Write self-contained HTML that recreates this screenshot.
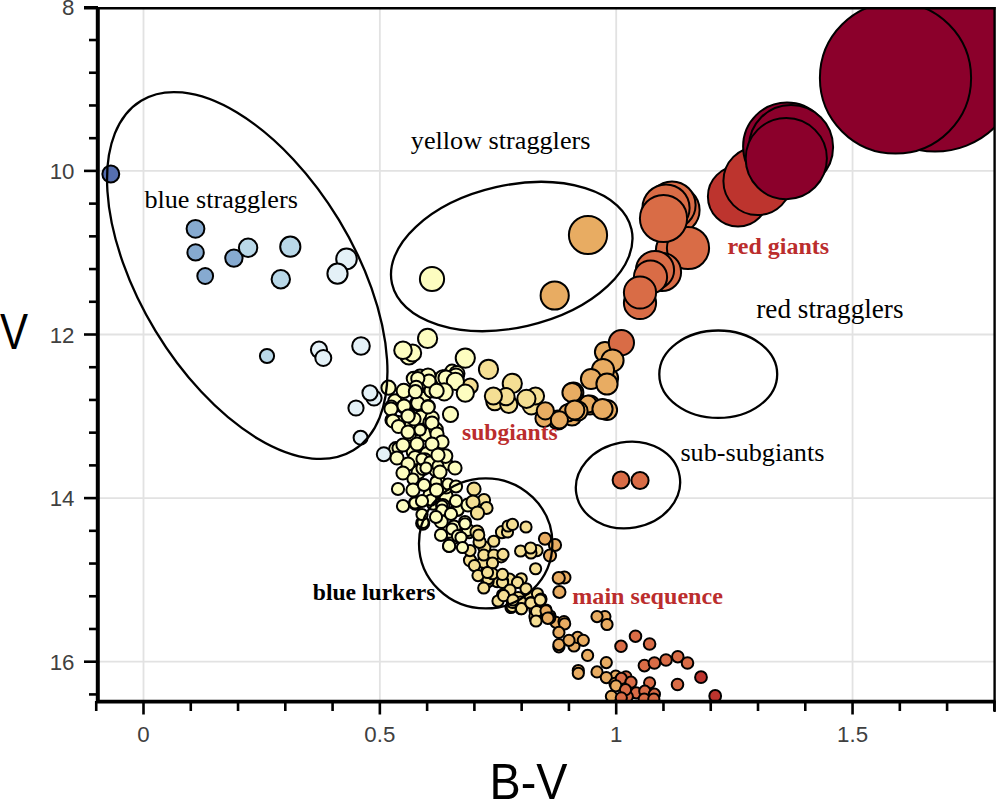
<!DOCTYPE html><html><head><meta charset="utf-8"><style>html,body{margin:0;padding:0;background:#fff;width:997px;height:800px;overflow:hidden}svg{display:block}</style></head><body>
<svg width="997" height="800" viewBox="0 0 997 800">
<defs><clipPath id="pc"><rect x="97" y="8" width="898" height="694"/></clipPath></defs>
<g stroke="#e2e2e2" stroke-width="1.8"><line x1="143.50" y1="8" x2="143.50" y2="701" /><line x1="379.85" y1="8" x2="379.85" y2="701" /><line x1="616.20" y1="8" x2="616.20" y2="701" /><line x1="852.55" y1="8" x2="852.55" y2="701" /><line x1="98" y1="170.90" x2="994" y2="170.90" /><line x1="98" y1="334.50" x2="994" y2="334.50" /><line x1="98" y1="498.10" x2="994" y2="498.10" /><line x1="98" y1="661.70" x2="994" y2="661.70" /></g>
<g clip-path="url(#pc)" stroke="#000" stroke-width="2.0"><circle cx="526.2" cy="595.7" r="6.10" fill="#f5df94"/><circle cx="535.8" cy="618.2" r="6.10" fill="#f5df94"/><circle cx="535.8" cy="602.9" r="6.10" fill="#f5df94"/><circle cx="518.2" cy="598.1" r="6.10" fill="#f5df94"/><circle cx="507.7" cy="589.3" r="6.10" fill="#f5df94"/><circle cx="509.3" cy="579.6" r="6.10" fill="#f5df94"/><circle cx="502.1" cy="581.2" r="6.10" fill="#f5df94"/><circle cx="487.7" cy="581.2" r="6.10" fill="#f5df94"/><circle cx="497.2" cy="581.2" r="6.10" fill="#f5df94"/><circle cx="487.6" cy="581.2" r="6.10" fill="#f5df94"/><circle cx="486" cy="574.8" r="6.10" fill="#f5df94"/><circle cx="487.6" cy="570" r="6.10" fill="#f5df94"/><circle cx="501.2" cy="556.3" r="6.10" fill="#f5df94"/><circle cx="483.6" cy="561.9" r="6.10" fill="#f5df94"/><circle cx="470" cy="560.3" r="6.10" fill="#f5df94"/><circle cx="502" cy="532.2" r="6.10" fill="#f5df94"/><circle cx="484.4" cy="547.5" r="6.10" fill="#f5df94"/><circle cx="479.6" cy="541.9" r="6.10" fill="#f5df94"/><circle cx="469.1" cy="532.2" r="6.10" fill="#fdfdc0"/><circle cx="449.1" cy="545.9" r="6.10" fill="#fdfdc0"/><circle cx="453.9" cy="537.8" r="6.10" fill="#fdfdc0"/><circle cx="455.5" cy="531.4" r="6.10" fill="#fdfdc0"/><circle cx="449.1" cy="531.4" r="6.10" fill="#fdfdc0"/><circle cx="430" cy="495.1" r="6.60" fill="#fdfdc0"/><circle cx="433.2" cy="503.1" r="6.60" fill="#fdfdc0"/><circle cx="449.2" cy="531.2" r="6.60" fill="#fdfdc0"/><circle cx="454" cy="527.2" r="6.60" fill="#fdfdc0"/><circle cx="441.2" cy="521.5" r="6.60" fill="#fdfdc0"/><circle cx="422.7" cy="523.2" r="6.60" fill="#fdfdc0"/><circle cx="457.2" cy="509.5" r="6.60" fill="#fdfdc0"/><circle cx="446" cy="495.9" r="6.60" fill="#fdfdc0"/><circle cx="442.8" cy="505.5" r="6.60" fill="#fdfdc0"/><circle cx="415.5" cy="503.1" r="6.60" fill="#fdfdc0"/><circle cx="446" cy="487" r="6.60" fill="#fdfdc0"/><circle cx="438" cy="480.6" r="6.60" fill="#fdfdc0"/><circle cx="445.6" cy="463.3" r="6.80" fill="#fdfdc0"/><circle cx="413.5" cy="452.1" r="6.80" fill="#fdfdc0"/><circle cx="430.4" cy="465" r="6.80" fill="#fdfdc0"/><circle cx="427.2" cy="453.7" r="6.80" fill="#fdfdc0"/><circle cx="418.3" cy="472.2" r="6.80" fill="#fdfdc0"/><circle cx="436" cy="469.8" r="6.80" fill="#fdfdc0"/><circle cx="423.2" cy="468.2" r="6.80" fill="#fdfdc0"/><circle cx="424.8" cy="460.1" r="6.80" fill="#fdfdc0"/><circle cx="415.1" cy="457.7" r="6.80" fill="#fdfdc0"/><circle cx="395.9" cy="448.9" r="6.80" fill="#fdfdc0"/><circle cx="445.6" cy="456.1" r="6.80" fill="#fdfdc0"/><circle cx="418.3" cy="434.4" r="6.80" fill="#fdfdc0"/><circle cx="426.4" cy="434.4" r="6.80" fill="#fdfdc0"/><circle cx="436" cy="429.6" r="6.80" fill="#fdfdc0"/><circle cx="409.5" cy="433.6" r="6.80" fill="#fdfdc0"/><circle cx="420" cy="426.4" r="6.80" fill="#fdfdc0"/><circle cx="409.5" cy="423.2" r="6.80" fill="#fdfdc0"/><circle cx="398.3" cy="422.8" r="6.80" fill="#fdfdc0"/><circle cx="431.2" cy="421.2" r="6.80" fill="#fdfdc0"/><circle cx="420.7" cy="417.2" r="6.80" fill="#fdfdc0"/><circle cx="395" cy="401.1" r="6.80" fill="#fdfdc0"/><circle cx="423.2" cy="398.7" r="6.80" fill="#fdfdc0"/><circle cx="416.7" cy="403.5" r="6.80" fill="#fdfdc0"/><circle cx="424.8" cy="385" r="6.80" fill="#fdfdc0"/><circle cx="413.5" cy="378.6" r="6.80" fill="#fdfdc0"/><circle cx="418.3" cy="385.9" r="6.80" fill="#fdfdc0"/><circle cx="432" cy="379.4" r="6.80" fill="#fdfdc0"/><circle cx="420" cy="376.2" r="6.80" fill="#fdfdc0"/><circle cx="452" cy="371.4" r="6.80" fill="#fdfdc0"/><circle cx="444.8" cy="377" r="6.80" fill="#fdfdc0"/><circle cx="431.2" cy="390.7" r="6.80" fill="#fdfdc0"/><circle cx="738" cy="196.4" r="30.10" fill="#bd342e"/><circle cx="757.5" cy="181" r="34.10" fill="#bd342e"/><circle cx="787" cy="146.4" r="43.90" fill="#8b002b"/><circle cx="791" cy="147" r="42.10" fill="#8b002b"/><circle cx="935" cy="66" r="85.60" fill="#8b002b"/><circle cx="676" cy="210" r="23.60" fill="#d96c46"/><circle cx="672" cy="205" r="23.60" fill="#d96c46"/><circle cx="666" cy="208" r="23.60" fill="#d96c46"/><circle cx="675" cy="250" r="19.10" fill="#d96c46"/><circle cx="688" cy="248" r="21.10" fill="#d96c46"/><circle cx="662" cy="272" r="19.10" fill="#d96c46"/><circle cx="655" cy="270" r="19.10" fill="#d96c46"/><circle cx="640" cy="303" r="16.10" fill="#d96c46"/><circle cx="605" cy="352" r="10.10" fill="#e8ac62"/><circle cx="608" cy="378" r="10.10" fill="#e8ac62"/><circle cx="590" cy="405" r="9.60" fill="#e8ac62"/><circle cx="572" cy="416" r="9.60" fill="#e8ac62"/><circle cx="607" cy="410" r="10.10" fill="#e8ac62"/><circle cx="558" cy="420" r="9.60" fill="#e8ac62"/><circle cx="588" cy="404" r="8.60" fill="#e8ac62"/><circle cx="570" cy="412" r="8.60" fill="#e8ac62"/><circle cx="494.8" cy="401.6" r="8.60" fill="#f5df94"/><circle cx="508.8" cy="404.4" r="8.60" fill="#f5df94"/><circle cx="531.3" cy="405.8" r="8.60" fill="#f5df94"/><circle cx="535.5" cy="396" r="8.60" fill="#f5df94"/><circle cx="544" cy="418.5" r="8.60" fill="#e8ac62"/><circle cx="567.8" cy="412.9" r="8.60" fill="#e8ac62"/><circle cx="456.9" cy="373.5" r="7.60" fill="#fdfdc0"/><circle cx="470.2" cy="386.2" r="7.60" fill="#f5df94"/><circle cx="442.8" cy="377.8" r="7.60" fill="#fdfdc0"/><circle cx="409" cy="356" r="8.60" fill="#fdfdc0"/><circle cx="412.6" cy="353" r="8.60" fill="#fdfdc0"/><circle cx="456" cy="376" r="7.60" fill="#fdfdc0"/><circle cx="446" cy="378" r="7.60" fill="#fdfdc0"/><circle cx="428" cy="376" r="7.60" fill="#fdfdc0"/><circle cx="420" cy="382" r="7.60" fill="#fdfdc0"/><circle cx="429" cy="381" r="6.60" fill="#fdfdc0"/><circle cx="417.8" cy="378.5" r="6.60" fill="#fdfdc0"/><circle cx="416.2" cy="387.3" r="6.60" fill="#fdfdc0"/><circle cx="417.8" cy="403.3" r="6.60" fill="#fdfdc0"/><circle cx="392" cy="420" r="6.60" fill="#fdfdc0"/><circle cx="414" cy="419" r="6.60" fill="#fdfdc0"/><circle cx="430" cy="422" r="6.60" fill="#fdfdc0"/><circle cx="420" cy="430" r="5.60" fill="#fdfdc0"/><circle cx="422" cy="459" r="5.60" fill="#fdfdc0"/><circle cx="398" cy="448" r="5.60" fill="#fdfdc0"/><circle cx="436" cy="482" r="5.60" fill="#fdfdc0"/><circle cx="415" cy="503" r="5.60" fill="#fdfdc0"/><circle cx="442" cy="506" r="5.60" fill="#fdfdc0"/><circle cx="423" cy="522.5" r="5.60" fill="#fdfdc0"/><circle cx="442" cy="510" r="5.60" fill="#fdfdc0"/><circle cx="448" cy="484" r="5.60" fill="#fdfdc0"/><circle cx="430" cy="462" r="5.60" fill="#fdfdc0"/><circle cx="438" cy="466" r="5.60" fill="#fdfdc0"/><circle cx="431" cy="500" r="5.60" fill="#fdfdc0"/><circle cx="458" cy="510" r="5.60" fill="#fdfdc0"/><circle cx="468" cy="505" r="6.60" fill="#fdfdc0"/><circle cx="468" cy="530" r="6.10" fill="#fdfdc0"/><circle cx="488" cy="578.75" r="5.60" fill="#f5df94"/><circle cx="502.5" cy="582.5" r="5.60" fill="#f5df94"/><circle cx="511" cy="607.5" r="5.60" fill="#f5df94"/><circle cx="530" cy="596" r="5.60" fill="#f5df94"/><circle cx="507.5" cy="532" r="5.60" fill="#f5df94"/><circle cx="537" cy="550.6" r="5.60" fill="#f5df94"/><circle cx="531" cy="553" r="5.60" fill="#f5df94"/><circle cx="564.4" cy="577.5" r="6.10" fill="#e8ac62"/><circle cx="512.2" cy="606.5" r="5.60" fill="#f5df94"/><circle cx="556" cy="622.3" r="5.60" fill="#e8ac62"/><circle cx="564" cy="621.6" r="5.60" fill="#e8ac62"/><circle cx="558.9" cy="646.8" r="5.60" fill="#e8ac62"/><circle cx="574" cy="646" r="5.60" fill="#e8ac62"/><circle cx="577.6" cy="637.4" r="5.60" fill="#e8ac62"/><circle cx="578.3" cy="670.5" r="5.60" fill="#e8ac62"/><circle cx="604.9" cy="616.6" r="5.60" fill="#e8ac62"/><circle cx="615.7" cy="676.2" r="5.60" fill="#e8ac62"/><circle cx="536" cy="618.7" r="5.60" fill="#f5df94"/><circle cx="520.8" cy="602" r="5.60" fill="#f5df94"/><circle cx="626" cy="676.8" r="5.60" fill="#d96c46"/><circle cx="632.7" cy="692.4" r="5.60" fill="#d96c46"/><circle cx="636.3" cy="692.8" r="5.60" fill="#d96c46"/><circle cx="627.3" cy="696.6" r="5.60" fill="#d96c46"/><circle cx="374" cy="398" r="7.60" fill="#e4f1f7"/><circle cx="484" cy="500" r="6.10" fill="#f5df94"/><circle cx="486.5" cy="508" r="6.10" fill="#f5df94"/><circle cx="786.3" cy="158.6" r="40.60" fill="#8b002b"/><circle cx="895.5" cy="78" r="75.60" fill="#8b002b"/><circle cx="663.5" cy="218.5" r="23.60" fill="#d96c46"/><circle cx="650.5" cy="277" r="16.60" fill="#d96c46"/><circle cx="640" cy="292.5" r="16.10" fill="#d96c46"/><circle cx="621.4" cy="342.7" r="12.60" fill="#d96c46"/><circle cx="612.5" cy="360.5" r="11.10" fill="#e8ac62"/><circle cx="603" cy="370" r="11.10" fill="#e8ac62"/><circle cx="591" cy="379" r="10.10" fill="#e8ac62"/><circle cx="607" cy="384" r="10.60" fill="#e8ac62"/><circle cx="573.5" cy="392.5" r="9.90" fill="#e8ac62"/><circle cx="578" cy="411" r="9.60" fill="#e8ac62"/><circle cx="602.5" cy="409" r="10.10" fill="#e8ac62"/><circle cx="465.3" cy="358.1" r="9.60" fill="#fdfdc0"/><circle cx="488.5" cy="369.3" r="9.60" fill="#f5df94"/><circle cx="512.3" cy="383.4" r="9.60" fill="#f5df94"/><circle cx="506" cy="396.7" r="8.60" fill="#f5df94"/><circle cx="493.4" cy="396" r="8.60" fill="#f5df94"/><circle cx="526.4" cy="398.8" r="9.10" fill="#f5df94"/><circle cx="545.3" cy="410.8" r="8.60" fill="#e8ac62"/><circle cx="559.4" cy="419.9" r="8.60" fill="#e8ac62"/><circle cx="572" cy="392.5" r="9.60" fill="#e8ac62"/><circle cx="574.8" cy="410" r="9.60" fill="#e8ac62"/><circle cx="455.4" cy="381.3" r="8.60" fill="#fdfdc0"/><circle cx="465.3" cy="393.2" r="8.60" fill="#fdfdc0"/><circle cx="444.2" cy="391.8" r="8.60" fill="#fdfdc0"/><circle cx="450.5" cy="414.3" r="7.60" fill="#fdfdc0"/><circle cx="403" cy="350.3" r="8.80" fill="#fdfdc0"/><circle cx="427.6" cy="338.4" r="9.60" fill="#fdfdc0"/><circle cx="388.5" cy="387.7" r="7.10" fill="#fdfdc0"/><circle cx="403.7" cy="390.9" r="7.10" fill="#fdfdc0"/><circle cx="415.4" cy="391.7" r="6.60" fill="#fdfdc0"/><circle cx="436.6" cy="390.9" r="7.10" fill="#fdfdc0"/><circle cx="403.3" cy="406.5" r="6.60" fill="#fdfdc0"/><circle cx="391.3" cy="406.5" r="6.10" fill="#fdfdc0"/><circle cx="408.2" cy="414.6" r="6.60" fill="#fdfdc0"/><circle cx="428.2" cy="406.5" r="6.60" fill="#fdfdc0"/><circle cx="432.2" cy="417.8" r="6.60" fill="#fdfdc0"/><circle cx="404" cy="406" r="6.60" fill="#fdfdc0"/><circle cx="391" cy="409" r="6.60" fill="#fdfdc0"/><circle cx="428" cy="407" r="6.60" fill="#fdfdc0"/><circle cx="393" cy="421" r="6.60" fill="#fdfdc0"/><circle cx="398.5" cy="426.5" r="6.60" fill="#fdfdc0"/><circle cx="408" cy="416" r="6.60" fill="#fdfdc0"/><circle cx="432" cy="423" r="6.60" fill="#fdfdc0"/><circle cx="437" cy="434" r="6.60" fill="#fdfdc0"/><circle cx="442" cy="442" r="6.60" fill="#fdfdc0"/><circle cx="432" cy="444" r="6.60" fill="#fdfdc0"/><circle cx="417" cy="444" r="6.60" fill="#fdfdc0"/><circle cx="403" cy="445" r="6.60" fill="#fdfdc0"/><circle cx="408" cy="432" r="6.60" fill="#fdfdc0"/><circle cx="438" cy="455" r="6.60" fill="#fdfdc0"/><circle cx="397" cy="458" r="6.60" fill="#fdfdc0"/><circle cx="408" cy="464" r="6.60" fill="#fdfdc0"/><circle cx="455" cy="468" r="6.60" fill="#fdfdc0"/><circle cx="440" cy="472" r="6.60" fill="#fdfdc0"/><circle cx="403" cy="473" r="6.60" fill="#fdfdc0"/><circle cx="426" cy="468" r="5.60" fill="#fdfdc0"/><circle cx="413" cy="479" r="5.60" fill="#fdfdc0"/><circle cx="398" cy="489" r="6.10" fill="#fdfdc0"/><circle cx="413" cy="490" r="6.60" fill="#fdfdc0"/><circle cx="424" cy="485" r="6.10" fill="#fdfdc0"/><circle cx="436.5" cy="490" r="6.60" fill="#fdfdc0"/><circle cx="456" cy="486.5" r="6.10" fill="#fdfdc0"/><circle cx="403" cy="506" r="6.10" fill="#fdfdc0"/><circle cx="422" cy="501" r="6.10" fill="#fdfdc0"/><circle cx="456" cy="501" r="6.10" fill="#fdfdc0"/><circle cx="422" cy="514.5" r="5.60" fill="#fdfdc0"/><circle cx="436" cy="517" r="6.10" fill="#fdfdc0"/><circle cx="451" cy="514" r="6.10" fill="#fdfdc0"/><circle cx="465" cy="522" r="6.10" fill="#fdfdc0"/><circle cx="441" cy="535" r="6.10" fill="#fdfdc0"/><circle cx="452" cy="529" r="5.60" fill="#fdfdc0"/><circle cx="458" cy="536" r="6.10" fill="#fdfdc0"/><circle cx="474" cy="489" r="6.60" fill="#f5df94"/><circle cx="473" cy="502" r="6.60" fill="#f5df94"/><circle cx="477.5" cy="513" r="6.60" fill="#f5df94"/><circle cx="477" cy="532" r="6.60" fill="#f5df94"/><circle cx="465" cy="523.75" r="5.60" fill="#fdfdc0"/><circle cx="478.75" cy="535" r="5.60" fill="#f5df94"/><circle cx="493.75" cy="541.25" r="5.60" fill="#f5df94"/><circle cx="470" cy="550.6" r="5.60" fill="#f5df94"/><circle cx="483.75" cy="555" r="5.60" fill="#f5df94"/><circle cx="493.75" cy="555" r="5.60" fill="#f5df94"/><circle cx="503" cy="554.4" r="5.60" fill="#f5df94"/><circle cx="474.4" cy="565.6" r="5.60" fill="#f5df94"/><circle cx="492.5" cy="563" r="5.60" fill="#f5df94"/><circle cx="478" cy="575.6" r="5.60" fill="#f5df94"/><circle cx="483.75" cy="588" r="5.60" fill="#f5df94"/><circle cx="492.5" cy="573.75" r="5.60" fill="#f5df94"/><circle cx="502.5" cy="574.4" r="5.60" fill="#f5df94"/><circle cx="521.25" cy="578.75" r="5.60" fill="#f5df94"/><circle cx="517.5" cy="582.5" r="5.60" fill="#f5df94"/><circle cx="526" cy="588.75" r="5.60" fill="#f5df94"/><circle cx="510" cy="590" r="5.60" fill="#f5df94"/><circle cx="502.5" cy="595" r="5.60" fill="#f5df94"/><circle cx="498" cy="601" r="5.60" fill="#f5df94"/><circle cx="512.5" cy="602.5" r="5.60" fill="#f5df94"/><circle cx="531" cy="602.5" r="5.60" fill="#f5df94"/><circle cx="521" cy="608.75" r="5.60" fill="#f5df94"/><circle cx="535" cy="610" r="5.60" fill="#f5df94"/><circle cx="537.5" cy="593.75" r="5.60" fill="#f5df94"/><circle cx="541" cy="599" r="5.60" fill="#f5df94"/><circle cx="508" cy="526" r="5.60" fill="#f5df94"/><circle cx="512.5" cy="524.4" r="5.60" fill="#f5df94"/><circle cx="526" cy="527" r="5.60" fill="#f5df94"/><circle cx="520.6" cy="551" r="5.60" fill="#f5df94"/><circle cx="530.6" cy="548" r="5.60" fill="#f5df94"/><circle cx="535.6" cy="568.75" r="5.60" fill="#f5df94"/><circle cx="545" cy="538.75" r="6.10" fill="#e8ac62"/><circle cx="555" cy="545" r="6.10" fill="#e8ac62"/><circle cx="550" cy="555.6" r="6.10" fill="#e8ac62"/><circle cx="558.75" cy="578" r="6.10" fill="#e8ac62"/><circle cx="559.4" cy="592" r="6.10" fill="#e8ac62"/><circle cx="461" cy="537.5" r="5.60" fill="#fdfdc0"/><circle cx="462.5" cy="547.5" r="5.60" fill="#fdfdc0"/><circle cx="546" cy="610" r="5.60" fill="#e8ac62"/><circle cx="550" cy="616" r="5.60" fill="#e8ac62"/><circle cx="535" cy="616" r="5.60" fill="#f5df94"/><circle cx="487.5" cy="572.5" r="5.60" fill="#f5df94"/><circle cx="503.6" cy="595.7" r="5.60" fill="#f5df94"/><circle cx="513" cy="600" r="5.60" fill="#f5df94"/><circle cx="521.5" cy="608.7" r="5.60" fill="#f5df94"/><circle cx="530.9" cy="603" r="5.60" fill="#f5df94"/><circle cx="540.2" cy="600" r="5.60" fill="#f5df94"/><circle cx="536.6" cy="611.6" r="5.60" fill="#f5df94"/><circle cx="536" cy="621" r="5.60" fill="#f5df94"/><circle cx="546" cy="610.8" r="5.60" fill="#e8ac62"/><circle cx="549.6" cy="618" r="5.60" fill="#e8ac62"/><circle cx="564.7" cy="623.8" r="5.60" fill="#e8ac62"/><circle cx="558.9" cy="632.4" r="5.60" fill="#e8ac62"/><circle cx="558.9" cy="644.6" r="5.60" fill="#e8ac62"/><circle cx="569" cy="640.3" r="5.60" fill="#e8ac62"/><circle cx="583.3" cy="640.3" r="5.60" fill="#e8ac62"/><circle cx="587.6" cy="655.4" r="5.60" fill="#e8ac62"/><circle cx="578.3" cy="673.3" r="5.60" fill="#e8ac62"/><circle cx="597" cy="616.6" r="5.60" fill="#e8ac62"/><circle cx="607" cy="624.5" r="5.60" fill="#e8ac62"/><circle cx="606.3" cy="662.6" r="5.60" fill="#e8ac62"/><circle cx="597" cy="671.9" r="5.60" fill="#e8ac62"/><circle cx="606.3" cy="677.6" r="5.60" fill="#e8ac62"/><circle cx="615" cy="683.4" r="5.60" fill="#e8ac62"/><circle cx="611.4" cy="696.3" r="5.60" fill="#e8ac62"/><circle cx="635.5" cy="636.2" r="5.80" fill="#d96c46"/><circle cx="621" cy="646.3" r="5.80" fill="#d96c46"/><circle cx="649.6" cy="644" r="5.80" fill="#d96c46"/><circle cx="644.4" cy="665.6" r="5.80" fill="#d96c46"/><circle cx="654.4" cy="663" r="5.80" fill="#d96c46"/><circle cx="666" cy="660" r="5.80" fill="#d96c46"/><circle cx="677.8" cy="656.7" r="5.80" fill="#d96c46"/><circle cx="687.5" cy="663" r="5.80" fill="#d96c46"/><circle cx="701" cy="677.2" r="5.90" fill="#bd342e"/><circle cx="621.3" cy="678.4" r="5.60" fill="#d96c46"/><circle cx="631" cy="682.2" r="5.60" fill="#d96c46"/><circle cx="615.9" cy="685.8" r="5.60" fill="#e8ac62"/><circle cx="625.5" cy="689.7" r="5.60" fill="#d96c46"/><circle cx="649.6" cy="682.8" r="5.60" fill="#d96c46"/><circle cx="644.8" cy="691.2" r="5.60" fill="#d96c46"/><circle cx="654.4" cy="694.2" r="5.60" fill="#d96c46"/><circle cx="677.5" cy="684.5" r="5.80" fill="#d96c46"/><circle cx="621.3" cy="697.8" r="5.60" fill="#d96c46"/><circle cx="644.2" cy="699" r="5.60" fill="#d96c46"/><circle cx="653.8" cy="699" r="5.60" fill="#d96c46"/><circle cx="715.2" cy="696" r="5.90" fill="#bd342e"/><circle cx="110.8" cy="174" r="8.45" fill="#556eaf"/><circle cx="195.5" cy="228.8" r="8.90" fill="#86aad0"/><circle cx="195.6" cy="252.4" r="8.20" fill="#86aad0"/><circle cx="205.2" cy="276" r="7.90" fill="#86aad0"/><circle cx="233.9" cy="258.1" r="8.70" fill="#86aad0"/><circle cx="248.1" cy="247.8" r="9.20" fill="#b9d8e8"/><circle cx="290.3" cy="246.7" r="10.10" fill="#b9d8e8"/><circle cx="280.8" cy="279.2" r="9.20" fill="#b9d8e8"/><circle cx="346.5" cy="258.9" r="10.30" fill="#e4f1f7"/><circle cx="337.5" cy="273.6" r="10.10" fill="#e4f1f7"/><circle cx="267" cy="356" r="7.10" fill="#b9d8e8"/><circle cx="319" cy="349.7" r="8.10" fill="#e4f1f7"/><circle cx="323.3" cy="358" r="8.00" fill="#e4f1f7"/><circle cx="361" cy="346" r="8.80" fill="#e4f1f7"/><circle cx="370" cy="392.8" r="7.60" fill="#e4f1f7"/><circle cx="356" cy="408" r="7.60" fill="#e4f1f7"/><circle cx="360.6" cy="437.7" r="7.00" fill="#e4f1f7"/><circle cx="383.8" cy="454.3" r="7.00" fill="#e4f1f7"/><circle cx="432" cy="279" r="12.10" fill="#fdfdc0"/><circle cx="588" cy="235" r="19.10" fill="#e8ac62"/><circle cx="554.7" cy="295.5" r="14.10" fill="#e8ac62"/><circle cx="621" cy="480" r="8.40" fill="#d96c46"/><circle cx="640" cy="480.5" r="8.60" fill="#d96c46"/><circle cx="449.1" cy="545.9" r="6.10" fill="#fdfdc0"/><circle cx="547.8" cy="618.2" r="5.80" fill="#e8ac62"/></g>
<g fill="none" stroke="#000" stroke-width="2.3">
<ellipse cx="247.25" cy="275.5" rx="204.5" ry="107.2" transform="rotate(58.75 247.25 275.5)"/>
<ellipse cx="511.75" cy="256.5" rx="122.8" ry="71.1" transform="rotate(-12.85 511.75 256.5)"/>
<ellipse cx="628" cy="485" rx="52.4" ry="43" transform="rotate(-10 628 485)"/>
<ellipse cx="718.25" cy="374.2" rx="58.95" ry="43.7"/>
<ellipse cx="485.7" cy="543.4" rx="66.7" ry="65"/>
</g>
<g stroke="#000"><line x1="84" y1="8.2" x2="995.5" y2="8.2" stroke-width="2.6"/><line x1="97.8" y1="6.9" x2="97.8" y2="703" stroke-width="4"/><line x1="96" y1="701.6" x2="995.5" y2="701.6" stroke-width="3.6"/><line x1="994.6" y1="6.9" x2="994.6" y2="712" stroke-width="2.4"/><line x1="84" y1="7.30" x2="98" y2="7.30" stroke-width="2.6"/><line x1="89" y1="40.02" x2="98" y2="40.02" stroke-width="2.6"/><line x1="89" y1="72.74" x2="98" y2="72.74" stroke-width="2.6"/><line x1="89" y1="105.46" x2="98" y2="105.46" stroke-width="2.6"/><line x1="89" y1="138.18" x2="98" y2="138.18" stroke-width="2.6"/><line x1="84" y1="170.90" x2="98" y2="170.90" stroke-width="2.6"/><line x1="89" y1="203.62" x2="98" y2="203.62" stroke-width="2.6"/><line x1="89" y1="236.34" x2="98" y2="236.34" stroke-width="2.6"/><line x1="89" y1="269.06" x2="98" y2="269.06" stroke-width="2.6"/><line x1="89" y1="301.78" x2="98" y2="301.78" stroke-width="2.6"/><line x1="84" y1="334.50" x2="98" y2="334.50" stroke-width="2.6"/><line x1="89" y1="367.22" x2="98" y2="367.22" stroke-width="2.6"/><line x1="89" y1="399.94" x2="98" y2="399.94" stroke-width="2.6"/><line x1="89" y1="432.66" x2="98" y2="432.66" stroke-width="2.6"/><line x1="89" y1="465.38" x2="98" y2="465.38" stroke-width="2.6"/><line x1="84" y1="498.10" x2="98" y2="498.10" stroke-width="2.6"/><line x1="89" y1="530.82" x2="98" y2="530.82" stroke-width="2.6"/><line x1="89" y1="563.54" x2="98" y2="563.54" stroke-width="2.6"/><line x1="89" y1="596.26" x2="98" y2="596.26" stroke-width="2.6"/><line x1="89" y1="628.98" x2="98" y2="628.98" stroke-width="2.6"/><line x1="84" y1="661.70" x2="98" y2="661.70" stroke-width="2.6"/><line x1="89" y1="694.42" x2="98" y2="694.42" stroke-width="2.6"/><line x1="96.23" y1="701" x2="96.23" y2="711" stroke-width="2.6"/><line x1="143.50" y1="701" x2="143.50" y2="714.5" stroke-width="2.6"/><line x1="190.77" y1="701" x2="190.77" y2="711" stroke-width="2.6"/><line x1="238.04" y1="701" x2="238.04" y2="711" stroke-width="2.6"/><line x1="285.31" y1="701" x2="285.31" y2="711" stroke-width="2.6"/><line x1="332.58" y1="701" x2="332.58" y2="711" stroke-width="2.6"/><line x1="379.85" y1="701" x2="379.85" y2="714.5" stroke-width="2.6"/><line x1="427.12" y1="701" x2="427.12" y2="711" stroke-width="2.6"/><line x1="474.39" y1="701" x2="474.39" y2="711" stroke-width="2.6"/><line x1="521.66" y1="701" x2="521.66" y2="711" stroke-width="2.6"/><line x1="568.93" y1="701" x2="568.93" y2="711" stroke-width="2.6"/><line x1="616.20" y1="701" x2="616.20" y2="714.5" stroke-width="2.6"/><line x1="663.47" y1="701" x2="663.47" y2="711" stroke-width="2.6"/><line x1="710.74" y1="701" x2="710.74" y2="711" stroke-width="2.6"/><line x1="758.01" y1="701" x2="758.01" y2="711" stroke-width="2.6"/><line x1="805.28" y1="701" x2="805.28" y2="711" stroke-width="2.6"/><line x1="852.55" y1="701" x2="852.55" y2="714.5" stroke-width="2.6"/><line x1="899.82" y1="701" x2="899.82" y2="711" stroke-width="2.6"/><line x1="947.09" y1="701" x2="947.09" y2="711" stroke-width="2.6"/><line x1="994.36" y1="701" x2="994.36" y2="711" stroke-width="2.6"/></g>
<g font-family="Liberation Sans, sans-serif" font-size="23" fill="#404040"><text transform="translate(74.5 15.30) scale(0.97 1)" text-anchor="end">8</text><text transform="translate(74.5 178.90) scale(0.97 1)" text-anchor="end">10</text><text transform="translate(74.5 342.50) scale(0.97 1)" text-anchor="end">12</text><text transform="translate(74.5 506.10) scale(0.97 1)" text-anchor="end">14</text><text transform="translate(74.5 669.70) scale(0.97 1)" text-anchor="end">16</text><text transform="translate(143.50 741.7) scale(0.97 1)" text-anchor="middle">0</text><text transform="translate(379.85 741.7) scale(0.97 1)" text-anchor="middle">0.5</text><text transform="translate(616.20 741.7) scale(0.97 1)" text-anchor="middle">1</text><text transform="translate(852.55 741.7) scale(0.97 1)" text-anchor="middle">1.5</text></g>
<text transform="translate(0 349) scale(0.836 1)" x="0" y="0" font-family="Liberation Sans, sans-serif" font-size="50.3" fill="#000">V</text>
<text transform="translate(489.5 799) scale(0.945 1)" x="0" y="0" font-family="Liberation Sans, sans-serif" font-size="49.5" fill="#000">B-V</text>
<g font-family="Liberation Serif, serif" fill="#000"><text x="144.4" y="208" font-size="26.2">blue stragglers</text><text x="410.8" y="148.9" font-size="26.2">yellow stragglers</text><text x="756.3" y="318.2" font-size="27.2">red stragglers</text><text x="680.4" y="460.6" font-size="26.2">sub-subgiants</text><text x="312.8" y="599.8" font-size="23.6" font-weight="bold">blue lurkers</text><text x="727.6" y="254.2" font-size="24" font-weight="bold" fill="#bb2d2d">red giants</text><text x="462" y="440.3" font-size="23.6" font-weight="bold" fill="#bb2d2d">subgiants</text><text x="572.3" y="603.5" font-size="24.1" font-weight="bold" fill="#bb2d2d">main sequence</text></g>
</svg></body></html>
